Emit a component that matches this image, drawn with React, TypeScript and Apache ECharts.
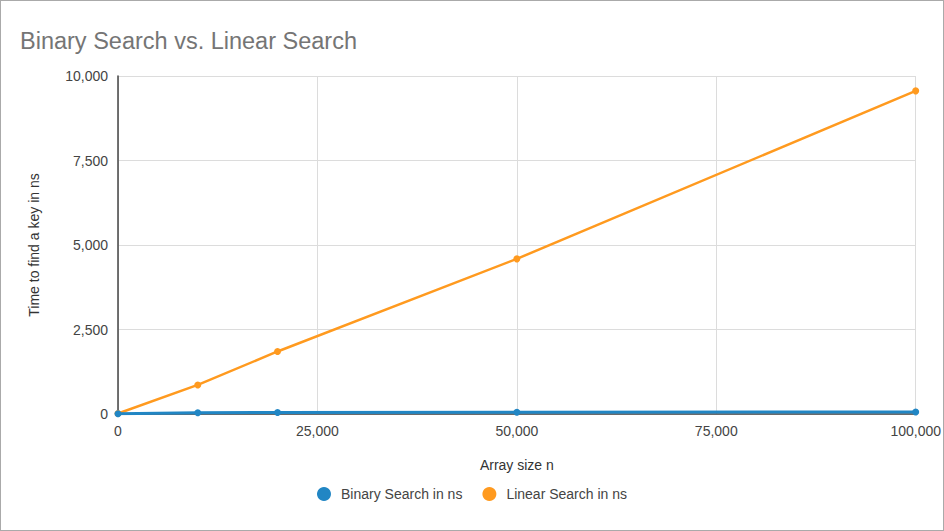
import React, { useEffect, useRef } from "react";
import * as echarts from "echarts";

const arraySizes = [0, 10000, 20000, 50000, 100000];
const binarySearchNs = [10, 35, 45, 50, 60];
const linearSearchNs = [15, 860, 1850, 4590, 9560];
const seriesNames = ["Binary Search in ns", "Linear Search in ns"];

const fmt = (v: number) => v.toLocaleString("en-US");

export default function App() {
  const ref = useRef<HTMLDivElement>(null);
  useEffect(() => {
    if (!ref.current) return;
    const chart = echarts.init(ref.current, undefined, { renderer: "svg" });
    const font = "Liberation Sans, Arial, sans-serif";
    chart.setOption({
      animation: false,
      textStyle: { fontFamily: font },
      title: {
        text: "Binary Search vs. Linear Search",
        left: 15,
        top: 24,
        textStyle: { fontSize: 23.5, fontWeight: "normal", color: "#757575", fontFamily: font },
      },
      grid: { left: 118, right: 28, top: 76, bottom: 117, containLabel: false },
      legend: {
        bottom: 25,
        left: "center",
        icon: "circle",
        itemWidth: 14,
        itemHeight: 14,
        itemGap: 20,
        textStyle: { fontSize: 14, color: "#444", fontFamily: font, padding: [0, 0, 0, 5] },
        data: seriesNames,
      },
      xAxis: {
        type: "value",
        min: 0,
        max: 100000,
        interval: 25000,
        name: "Array size n",
        nameLocation: "middle",
        nameGap: 44,
        nameTextStyle: { fontSize: 14, color: "#333", fontFamily: font },
        axisLine: { show: true, lineStyle: { color: "#444", width: 1.5 } },
        axisTick: { show: false },
        axisLabel: { formatter: fmt, fontSize: 14, color: "#444", margin: 10 },
        splitLine: { show: true, lineStyle: { color: "#dcdcdc", width: 1 } },
      },
      yAxis: {
        type: "value",
        min: 0,
        max: 10000,
        interval: 2500,
        name: "Time to find a key in ns",
        nameLocation: "middle",
        nameGap: 77,
        nameTextStyle: { fontSize: 14, color: "#333", fontFamily: font },
        axisLine: { show: true, lineStyle: { color: "#444", width: 1.5 } },
        axisTick: { show: false },
        axisLabel: { formatter: fmt, fontSize: 14, color: "#444", margin: 10 },
        splitLine: { show: true, lineStyle: { color: "#dcdcdc", width: 1 } },
      },
      series: [
        {
          name: seriesNames[0],
          type: "line",
          data: arraySizes.map((x, i) => [x, binarySearchNs[i]]),
          color: "#2186c4",
          lineStyle: { width: 3 },
          symbol: "circle",
          symbolSize: 7,
          z: 3,
        },
        {
          name: seriesNames[1],
          type: "line",
          data: arraySizes.map((x, i) => [x, linearSearchNs[i]]),
          color: "#ff9a1f",
          lineStyle: { width: 2.5 },
          symbol: "circle",
          symbolSize: 7,
          z: 2,
        },
      ],
    });
    return () => chart.dispose();
  }, []);
  return (
    <div
      style={{
        position: "fixed",
        left: 0,
        top: 0,
        width: 944,
        height: 531,
        boxSizing: "border-box",
        border: "1px solid #aaaaaa",
        background: "#fff",
      }}
    >
      <div ref={ref} style={{ position: "absolute", left: -1, top: -1, width: 944, height: 531 }} />
    </div>
  );
}
